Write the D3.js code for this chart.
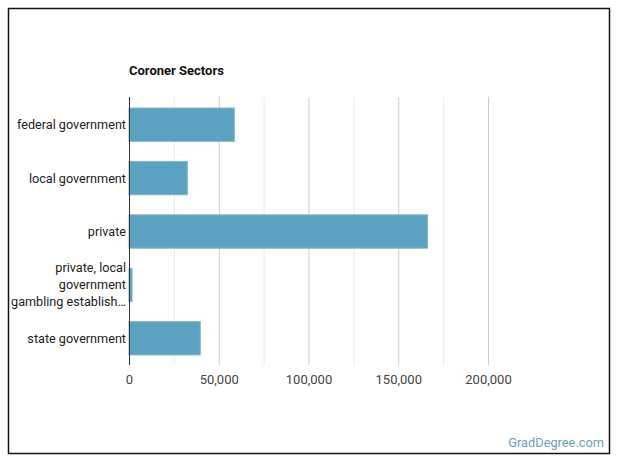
<!DOCTYPE html>
<html><head><meta charset="utf-8">
<script src="https://cdn.jsdelivr.net/npm/d3@7"></script>
<style>body{margin:0;background:#fff;} svg{display:block;font-family:Roboto, "Noto Sans", sans-serif;}</style>
</head><body>
<svg id="c" width="620" height="465"></svg>
<script>
const categories = ["federal government","local government","private","private, local government gambling establishments","state government"];
const values = [58700, 32500, 166300, 1700, 39700];
const tickValues = [0, 50000, 100000, 150000, 200000];
const minorTicks = [25000, 75000, 125000, 175000];
const title = "Coroner Sectors";
const watermark = "GradDegree.com";

const svg = d3.select("#c");
svg.append("rect").attr("x",8.5).attr("y",8.5).attr("width",601).attr("height",445)
  .attr("fill","#fff").attr("stroke","#111").attr("stroke-width",1.5);

const x = d3.scaleLinear().domain([0,200000]).range([129,488]);
const y = d3.scaleBand().domain(categories).range([98,365]).paddingInner(0.375).paddingOuter(0.1875);

// gridlines
svg.append("g").selectAll("line").data(minorTicks).join("line")
  .attr("x1",d=>x(d)+0.5).attr("x2",d=>x(d)+0.5).attr("y1",97).attr("y2",365)
  .attr("stroke","#ebebeb").attr("stroke-width",1);
svg.append("g").selectAll("line").data(tickValues.slice(1)).join("line")
  .attr("x1",d=>x(d)+0.5).attr("x2",d=>x(d)+0.5).attr("y1",97).attr("y2",365)
  .attr("stroke","#cccccc").attr("stroke-width",1);

// bars
svg.append("g").selectAll("rect").data(values).join("rect")
  .attr("x",x(0)).attr("y",(d,i)=>y(categories[i]))
  .attr("width",d=>x(d)-x(0)).attr("height",y.bandwidth())
  .attr("fill","#5ba2c0").attr("stroke","#7fb7cf").attr("stroke-width",1);

// baseline
svg.append("line").attr("x1",129.5).attr("x2",129.5).attr("y1",97).attr("y2",365)
  .attr("stroke","#333").attr("stroke-width",1);

// x axis labels
const xa = d3.axisBottom(x).tickValues(tickValues).tickFormat(d3.format(",")).tickSize(0);
const gx = svg.append("g").attr("transform","translate(0,372)").call(xa);
gx.select(".domain").remove();
gx.selectAll("text").attr("font-size",13).attr("fill","#444").attr("font-family","Roboto");

// category labels with wrapping
const labelG = svg.append("g");
const maxW = 116, lineH = 17, maxLines = 3;
categories.forEach(c=>{
  const cy = y(c) + y.bandwidth()/2;
  const t = labelG.append("text").attr("text-anchor","end").attr("font-size",12.65).attr("fill","#222");
  const measure = s => { t.text(s); return t.node().getComputedTextLength(); };
  const words = c.split(" ");
  let lines = [], cur = "";
  words.forEach(w=>{
    const test = cur ? cur+" "+w : w;
    if (measure(test) <= maxW || !cur) cur = test; else { lines.push(cur); cur = w; }
  });
  if (cur) lines.push(cur);
  if (lines.length > maxLines) {
    lines = lines.slice(0,maxLines);
    const s = lines.slice(0,maxLines-1).join(" ");
    let rest = c.slice(s.length).trim();
    while (measure(rest+"…") > maxW && rest.length>1) rest = rest.slice(0,-1);
    lines[maxLines-1] = rest.trim()+"…";
  }
  t.text(null);
  const y0 = cy - (lines.length-1)*lineH/2;
  lines.forEach((l,i)=>{
    t.append("tspan").attr("x",126).attr("y",y0+i*lineH).attr("dy","0.35em").text(l);
  });
});

svg.append("text").attr("x",129).attr("y",75).attr("font-size",13).attr("font-weight","bold")
  .attr("fill","#111").text(title);
svg.append("text").attr("x",604).attr("y",447).attr("text-anchor","end").attr("font-size",12.8)
  .attr("fill","#6a9fbd").text(watermark);
</script>
</body></html>
